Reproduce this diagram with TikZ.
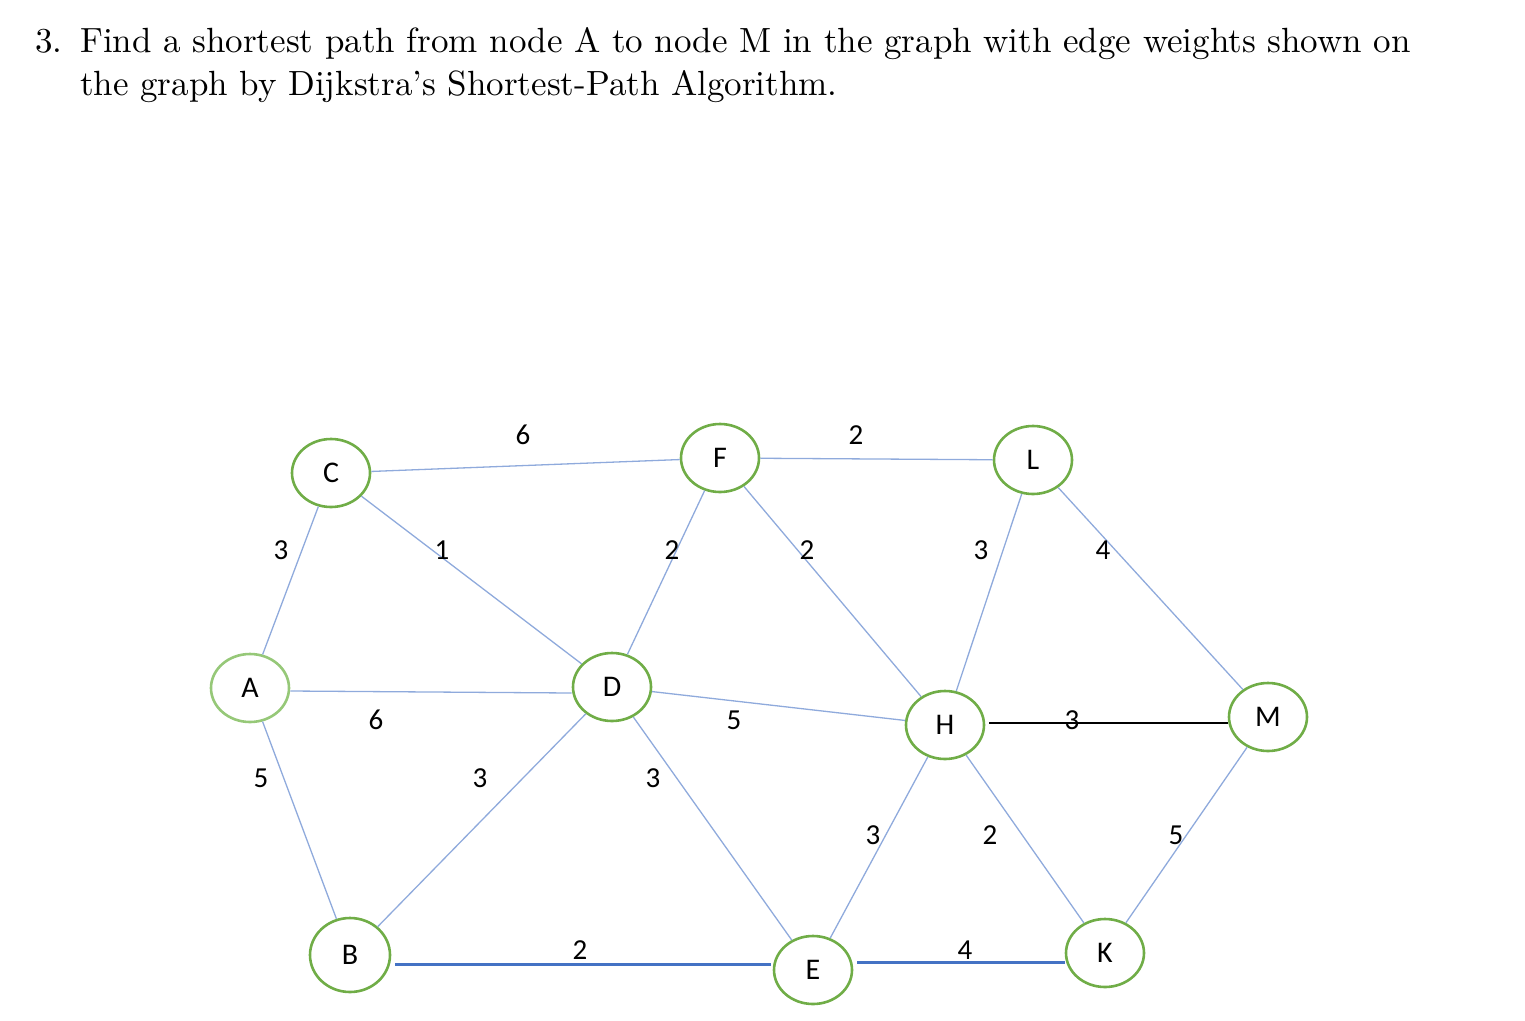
\documentclass[tikz,border=0pt]{standalone}
\usepackage{fontspec}
\newfontfamily\calibri{Carlito}
\newfontfamily\titlefont[Ligatures=TeX]{lmroman10-regular.otf}
\usetikzlibrary{shapes.geometric}
\definecolor{nodegreen}{RGB}{112,173,71}
\definecolor{lightgreen}{RGB}{150,200,120}
\definecolor{edgeblue}{RGB}{143,170,220}
\definecolor{pathblue}{RGB}{68,114,196}
\tikzset{
  vert/.style={ellipse, draw=nodegreen, line width=2.6pt, fill=white, inner sep=0pt,
    minimum width=78pt, minimum height=68pt, font=\calibri\fontsize{30}{34}\selectfont},
  wlabel/.style={inner sep=0pt, font=\calibri\fontsize{29}{32}\selectfont},
  thinedge/.style={draw=edgeblue, line width=1.3pt},
  thickedge/.style={draw=pathblue, line width=3pt},
  blackedge/.style={draw=black, line width=2.2pt},
  title/.style={anchor=base west, inner sep=0pt, font=\titlefont\fontsize{35}{43}\selectfont}
}
\begin{document}
\begin{tikzpicture}[x=1pt,y=-1pt]
\useasboundingbox (0,0) rectangle (1525,1020);
% title
\node[title] (num) at (35,52) {3.};
\node[title] (t1) at (80,52) {Find a shortest path from node A to node M in the graph with edge weights shown on};
\node[title] (t2) at (80,95) {the graph by Dijkstra’s Shortest-Path Algorithm.};
% nodes
\node[vert] (C) at (331,473) {C};
\node[vert, draw=lightgreen] (A) at (250,688) {A};
\node[vert] (D) at (612,687) {D};
\node[vert] (F) at (720,458) {F};
\node[vert] (L) at (1033,460) {L};
\node[vert] (H) at (945,725) {H};
\node[vert] (M) at (1268,717) {M};
\node[vert, minimum width=80pt, minimum height=74pt] (B) at (350,955) {B};
\node[vert] (E) at (813,970) {E};
\node[vert] (K) at (1105,953) {K};
% edges
\draw[thinedge] (C) -- (F);
\draw[thinedge] (C) -- (D);
\draw[thinedge] (C) -- (A);
\draw[thinedge] (A.east |- 0,691) -- (D.west |- 0,693);
\draw[thinedge] (A) -- (B);
\draw[thinedge] (D) -- (B);
\draw[thinedge] (D) -- (F);
\draw[thinedge] (D) -- (H);
\draw[thinedge] (D) -- (E);
\draw[thinedge] (F) -- (L);
\draw[thinedge] (F) -- (H);
\draw[thinedge] (L) -- (H);
\draw[thinedge] (L) -- (M);
\draw[thinedge] (H) -- (E);
\draw[thinedge] (H) -- (K);
\draw[thinedge] (M) -- (K);
\draw[blackedge, shorten <=4pt] (H.east |- 0,723) -- (M.west |- 0,723);
\draw[thickedge, shorten <=4pt, shorten >=2pt] (B.east |- 0,964) -- (E.west |- 0,964);
\draw[thickedge, shorten <=4pt] (E.east |- 0,962) -- (K.west |- 0,962);
% weights
\node[wlabel] (wCF) at (523,435) {6};
\node[wlabel] (wFL) at (856,435) {2};
\node[wlabel] (wAC) at (281,550) {3};
\node[wlabel] (wCD) at (442,550) {1};
\node[wlabel] (wDF) at (672,550) {2};
\node[wlabel] (wFH) at (807,550) {2};
\node[wlabel] (wLH) at (981,550) {3};
\node[wlabel] (wLM) at (1103,550) {4};
\node[wlabel] (wAD) at (376,720) {6};
\node[wlabel] (wDH) at (734,720) {5};
\node[wlabel] (wHM) at (1072,720) {3};
\node[wlabel] (wAB) at (261,778) {5};
\node[wlabel] (wDB) at (480,778) {3};
\node[wlabel] (wDE) at (653,778) {3};
\node[wlabel] (wHE) at (873,835) {3};
\node[wlabel] (wHK) at (990,835) {2};
\node[wlabel] (wMK) at (1176,835) {5};
\node[wlabel] (wBE) at (580,950) {2};
\node[wlabel] (wEK) at (965,950) {4};
\end{tikzpicture}
\end{document}
